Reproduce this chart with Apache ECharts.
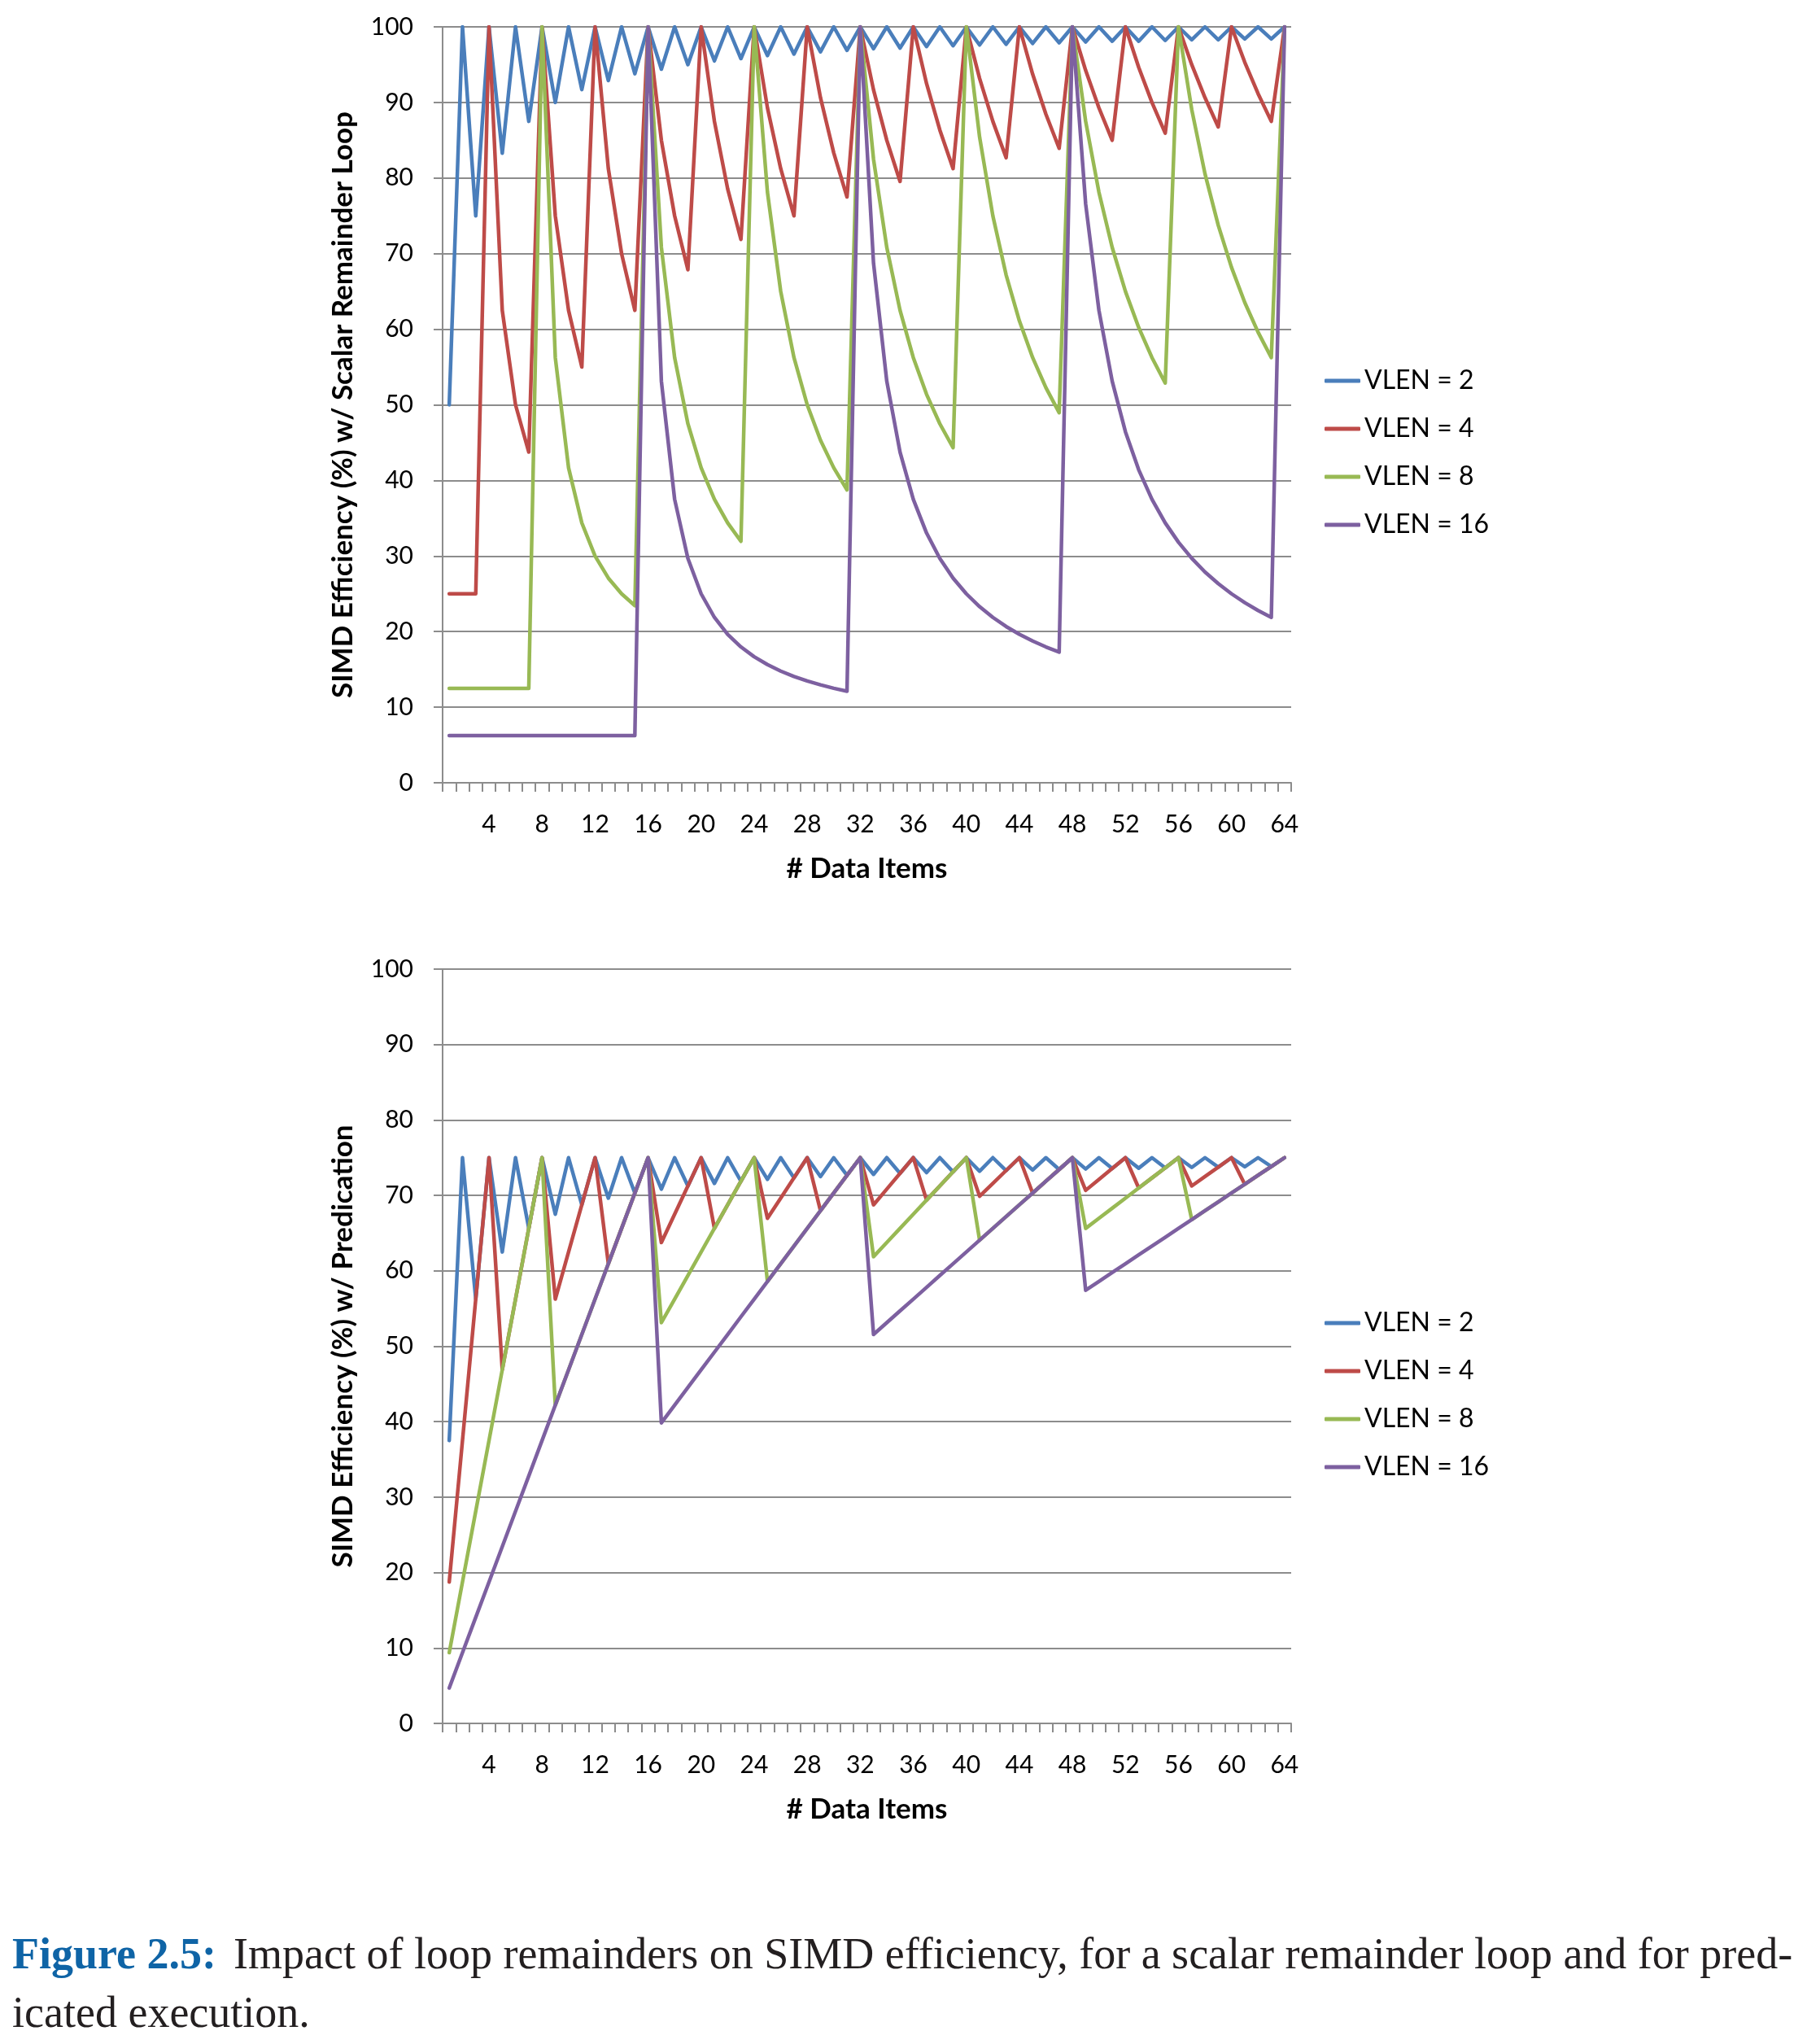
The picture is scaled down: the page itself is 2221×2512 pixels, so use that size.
<!DOCTYPE html>
<html>
<head>
<meta charset="utf-8">
<script src="https://cdn.jsdelivr.net/npm/echarts@6/dist/echarts.min.js"></script>
<style>
  html, body { margin: 0; padding: 0; background: #fff; }
  #chart { width: 2221px; height: 2512px; }
</style>
</head>
<body>
<div id="chart"></div>
<script>
// # data items (category axis)
var items = ['1','2','3','4','5','6','7','8','9','10','11','12','13','14','15','16',
  '17','18','19','20','21','22','23','24','25','26','27','28','29','30','31','32',
  '33','34','35','36','37','38','39','40','41','42','43','44','45','46','47','48',
  '49','50','51','52','53','54','55','56','57','58','59','60','61','62','63','64'];
var seriesNames = ['VLEN = 2', 'VLEN = 4', 'VLEN = 8', 'VLEN = 16'];
var colors = ['#4a7ebb', '#be4b48', '#98b954', '#7d60a0'];

// top: SIMD efficiency (%) with scalar remainder loop
var scalar2 = [50,100,75,100,83.3,100,87.5,100,90,100,91.7,100,92.9,100,93.8,100,
  94.4,100,95,100,95.5,100,95.8,100,96.2,100,96.4,100,96.7,100,96.9,100,
  97.1,100,97.2,100,97.4,100,97.5,100,97.6,100,97.7,100,97.8,100,97.9,100,
  98,100,98.1,100,98.1,100,98.2,100,98.3,100,98.3,100,98.4,100,98.4,100];
var scalar4 = [25,25,25,100,62.5,50,43.75,100,75,62.5,55,100,81.25,70,62.5,100,
  85,75,67.86,100,87.5,78.57,71.88,100,89.29,81.25,75,100,90.63,83.33,77.5,100,
  91.67,85,79.55,100,92.5,86.36,81.25,100,93.18,87.5,82.69,100,93.75,88.46,83.93,100,
  94.23,89.29,85,100,94.64,90,85.94,100,95,90.63,86.76,100,95.31,91.18,87.5,100];
var scalar8 = [12.5,12.5,12.5,12.5,12.5,12.5,12.5,100,56.25,41.67,34.38,30,27.08,25,23.44,100,
  70.83,56.25,47.5,41.67,37.5,34.38,31.94,100,78.13,65,56.25,50,45.31,41.67,38.75,100,
  82.5,70.83,62.5,56.25,51.39,47.5,44.32,100,85.42,75,67.19,61.11,56.25,52.27,48.96,100,
  87.5,78.13,70.83,65,60.23,56.25,52.88,100,89.06,80.56,73.75,68.18,63.54,59.62,56.25,100];
var scalar16 = [6.25,6.25,6.25,6.25,6.25,6.25,6.25,6.25,6.25,6.25,6.25,6.25,6.25,6.25,6.25,100,
  53.13,37.5,29.69,25,21.88,19.64,17.97,16.67,15.63,14.77,14.06,13.46,12.95,12.5,12.11,100,
  68.75,53.13,43.75,37.5,33.04,29.69,27.08,25,23.3,21.88,20.67,19.64,18.75,17.97,17.28,100,
  76.56,62.5,53.13,46.43,41.41,37.5,34.38,31.82,29.69,27.88,26.34,25,23.83,22.79,21.88,100];

// bottom: SIMD efficiency (%) with predication
var pred2 = [37.5,75,56.25,75,62.5,75,65.63,75,67.5,75,68.75,75,69.64,75,70.31,75,
  70.83,75,71.25,75,71.59,75,71.88,75,72.12,75,72.32,75,72.5,75,72.66,75,
  72.79,75,72.92,75,73.03,75,73.13,75,73.21,75,73.3,75,73.37,75,73.44,75,
  73.5,75,73.56,75,73.61,75,73.66,75,73.71,75,73.75,75,73.79,75,73.83,75];
var pred4 = [18.75,37.5,56.25,75,46.88,56.25,65.63,75,56.25,62.5,68.75,75,60.94,65.63,70.31,75,
  63.75,67.5,71.25,75,65.63,68.75,71.88,75,66.96,69.64,72.32,75,67.97,70.31,72.66,75,
  68.75,70.83,72.92,75,69.38,71.25,73.13,75,69.89,71.59,73.3,75,70.31,71.88,73.44,75,
  70.67,72.12,73.56,75,70.98,72.32,73.66,75,71.25,72.5,73.75,75,71.48,72.66,73.83,75];
var pred8 = [9.38,18.75,28.13,37.5,46.88,56.25,65.63,75,42.19,46.88,51.56,56.25,60.94,65.63,70.31,75,
  53.13,56.25,59.38,62.5,65.63,68.75,71.88,75,58.59,60.94,63.28,65.63,67.97,70.31,72.66,75,
  61.88,63.75,65.63,67.5,69.38,71.25,73.13,75,64.06,65.63,67.19,68.75,70.31,71.88,73.44,75,
  65.63,66.96,68.3,69.64,70.98,72.32,73.66,75,66.8,67.97,69.14,70.31,71.48,72.66,73.83,75];
var pred16 = [4.69,9.38,14.06,18.75,23.44,28.13,32.81,37.5,42.19,46.88,51.56,56.25,60.94,65.63,70.31,75,
  39.84,42.19,44.53,46.88,49.22,51.56,53.91,56.25,58.59,60.94,63.28,65.63,67.97,70.31,72.66,75,
  51.56,53.13,54.69,56.25,57.81,59.38,60.94,62.5,64.06,65.63,67.19,68.75,70.31,71.88,73.44,75,
  57.42,58.59,59.77,60.94,62.11,63.28,64.45,65.63,66.8,67.97,69.14,70.31,71.48,72.66,73.83,75];

var font = 'Lato';
var gray = '#8c8c8c';

function xAxisFor(gridIndex) {
  return {
    type: 'category', gridIndex: gridIndex, data: items, boundaryGap: true,
    name: '# Data Items', nameLocation: 'middle', nameGap: 88,
    nameTextStyle: { fontFamily: font, fontWeight: 'bold', fontSize: 35, color: '#000' },
    axisLine: { lineStyle: { color: gray, width: 2 } },
    axisTick: { show: true, interval: 0, length: 11, lineStyle: { color: gray, width: 2 } },
    axisLabel: {
      interval: function (idx) { return (idx + 1) % 4 === 0; },
      fontFamily: font, fontSize: 30, color: '#000', margin: 36
    },
    splitLine: { show: false }
  };
}

function yAxisFor(gridIndex, title) {
  return {
    type: 'value', gridIndex: gridIndex, min: 0, max: 100, interval: 10,
    name: title, nameLocation: 'middle', nameRotate: 90, nameGap: 105,
    nameTextStyle: { fontFamily: font, fontWeight: 'bold', fontSize: 35, color: '#000' },
    axisLine: { show: true, lineStyle: { color: gray, width: 2 } },
    axisTick: { show: true, length: 11, lineStyle: { color: gray, width: 2 } },
    axisLabel: { fontFamily: font, fontSize: 30, color: '#000', margin: 36 },
    splitLine: { show: true, lineStyle: { color: gray, width: 2 } }
  };
}

function legendFor(top) {
  return {
    orient: 'vertical', left: 1628, top: top, padding: 0, data: seriesNames,
    icon: 'roundRect', itemWidth: 44, itemHeight: 5, itemGap: 19,
    textStyle: { fontFamily: font, fontSize: 32, color: '#000', lineHeight: 40 },
    selectedMode: false
  };
}

function lineSeries(name, data, idx) {
  return {
    name: name, type: 'line', data: data, xAxisIndex: idx, yAxisIndex: idx,
    showSymbol: false, symbol: 'none', animation: false,
    lineStyle: { width: 4.5, cap: 'round', join: 'round' }
  };
}

var chart = echarts.init(document.getElementById('chart'));
chart.setOption({
  backgroundColor: '#fff',
  color: colors,
  animation: false,
  grid: [
    { left: 544, top: 33, width: 1043, height: 929 },
    { left: 544, top: 1191, width: 1043, height: 927 }
  ],
  legend: [legendFor(448), legendFor(1606)],
  xAxis: [xAxisFor(0), xAxisFor(1)],
  yAxis: [
    yAxisFor(0, 'SIMD Efficiency (%) w/ Scalar Remainder Loop'),
    yAxisFor(1, 'SIMD Efficiency (%) w/ Predication')
  ],
  series: [
    lineSeries(seriesNames[0], scalar2, 0),
    lineSeries(seriesNames[1], scalar4, 0),
    lineSeries(seriesNames[2], scalar8, 0),
    lineSeries(seriesNames[3], scalar16, 0),
    lineSeries(seriesNames[0], pred2, 1),
    lineSeries(seriesNames[1], pred4, 1),
    lineSeries(seriesNames[2], pred8, 1),
    lineSeries(seriesNames[3], pred16, 1)
  ],
  graphic: [
    { type: 'text', left: 15, top: 2378,
      style: { text: 'Figure 2.5:', font: 'bold 54px "Liberation Serif"', fill: '#0f64a6' } },
    { type: 'text', left: 287, top: 2378,
      style: { text: 'Impact of loop remainders on SIMD efficiency, for a scalar remainder loop and for pred-',
        font: '54px "Liberation Serif"', fill: '#231f20' } },
    { type: 'text', left: 15, top: 2450,
      style: { text: 'icated execution.', font: '54px "Liberation Serif"', fill: '#231f20' } }
  ]
});
</script>
</body>
</html>
